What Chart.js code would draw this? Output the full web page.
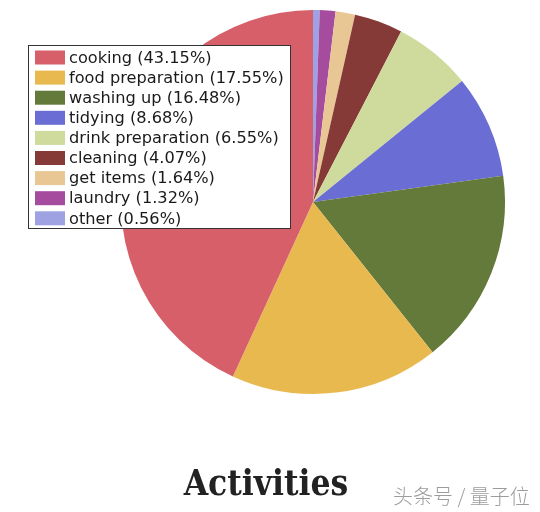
<!DOCTYPE html>
<html>
<head>
<meta charset="utf-8">
<script src="https://cdn.jsdelivr.net/npm/chart.js@4.4.0/dist/chart.umd.min.js"></script>
<style>
  html, body { margin: 0; padding: 0; background: #fff; }
  #wrap { width: 540px; height: 512px; }
</style>
</head>
<body>
<div id="wrap"><canvas id="myChart" width="540" height="512"></canvas></div>
<script>
// activity shares, in legend order
const activities = ["cooking", "food preparation", "washing up", "tidying", "drink preparation",
  "cleaning", "get items", "laundry", "other"];
const shares = [43.15, 17.55, 16.48, 8.68, 6.55, 4.07, 1.64, 1.32, 0.56];
const colors = ["#d75f6a", "#e8b94e", "#637a3a", "#6a6dd3", "#cfdb9d",
  "#863a37", "#e8c795", "#a64c9e", "#9fa2e2"];
const chartTitle = "Activities";
const watermark = "头条号 / 量子位";

// slices in the picture run counter-clockwise from the top, Chart.js goes clockwise,
// so feed the dataset reversed
const pieLabels = activities.slice().reverse();
const pieData = shares.slice().reverse();
const pieColors = colors.slice().reverse();

// legend box drawn over the pie, plus the title and watermark underneath
const overlay = {
  id: "overlay",
  afterDraw(chart) {
    const ctx = chart.ctx;
    ctx.save();
    const x = 28.5, y = 45.5, w = 262, h = 183;
    ctx.fillStyle = "#fff";
    ctx.fillRect(x, y, w, h);
    ctx.strokeStyle = "#333";
    ctx.lineWidth = 1;
    ctx.strokeRect(x, y, w, h);
    ctx.font = "16.2px 'DejaVu Sans'";
    ctx.textBaseline = "middle";
    activities.forEach((name, i) => {
      const cy = 57.5 + i * 20.1;
      ctx.fillStyle = colors[i];
      ctx.fillRect(35, cy - 7, 30, 14);
      ctx.fillStyle = "#1a1a1a";
      ctx.fillText(name + " (" + shares[i].toFixed(2) + "%)", 69, cy + 1);
    });

    // title
    ctx.font = "bold 35px 'DejaVu Serif Condensed', 'DejaVu Serif'";
    ctx.fillStyle = "#222";
    ctx.textAlign = "center";
    ctx.textBaseline = "alphabetic";
    ctx.fillText(chartTitle, 266, 495);

    // watermark
    ctx.font = "300 20px 'Noto Sans CJK SC'";
    ctx.fillStyle = "#9c9c9c";
    ctx.textAlign = "left";
    ctx.textBaseline = "middle";
    ctx.fillText(watermark, 393, 496);
    ctx.restore();
  }
};

const ctx = document.getElementById("myChart").getContext("2d");
new Chart(ctx, {
  type: "pie",
  data: {
    labels: pieLabels,
    datasets: [{
      data: pieData,
      backgroundColor: pieColors,
      borderWidth: 0
    }]
  },
  options: {
    responsive: false,
    animation: false,
    layout: { padding: { left: 121, right: 35, top: 10, bottom: 118 } },
    plugins: {
      legend: { display: false },
      tooltip: { enabled: false },
      title: { display: false }
    }
  },
  plugins: [overlay]
});
</script>
</body>
</html>
